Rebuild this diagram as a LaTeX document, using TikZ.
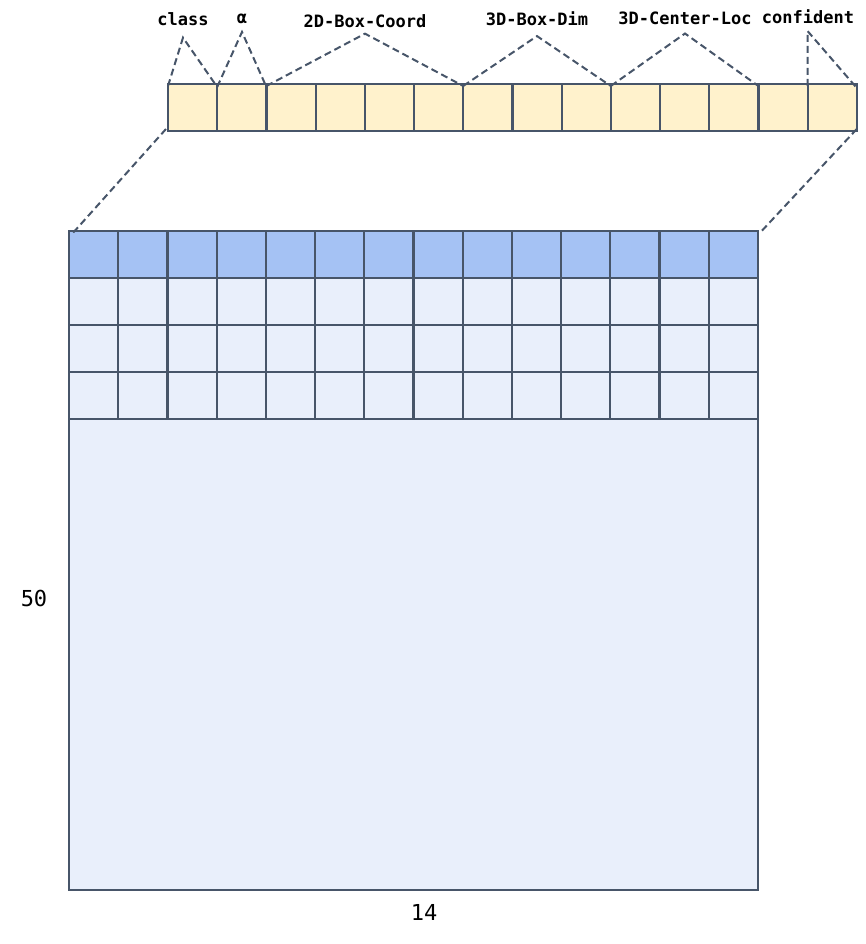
\documentclass[tikz,border=0pt]{standalone}
\usepackage{fontspec}
\setmonofont{DejaVu Sans Mono}
\usepackage{tikz}
\definecolor{cellline}{HTML}{475569}
\definecolor{slotyellow}{HTML}{FFF2CC}
\definecolor{headblue}{HTML}{A5C2F4}
\definecolor{gridblue}{HTML}{E9EFFB}
\begin{document}
\begin{tikzpicture}[x=1pt,y=-1pt,
        cell/.style={draw=cellline,line width=2.2pt,inner sep=0pt,outer sep=0pt,
            minimum width=49.2pt,minimum height=47pt},
        slot/.style={cell,fill=slotyellow},
        head/.style={cell,fill=headblue},
        body/.style={cell,fill=gridblue},
        fieldname/.style={font=\ttfamily\bfseries\fontsize{17}{17}\selectfont,
            inner sep=1pt,text depth=0pt},
        dimname/.style={font=\ttfamily\fontsize{22}{22}\selectfont},
        guide/.style={draw=cellline,line width=2pt,dash pattern=on 7pt off 4pt},
    ]
    \useasboundingbox (0,0) rectangle (865,944);
    % big block below the grid
    \node[body,anchor=north west,minimum width=688.8pt,minimum height=471pt] (rest) at (69,419) {};
    % one output vector
    \foreach \i in {1,...,14}{
        \node[slot] (t\i) at ({168+49.2*(\i-0.5)},107.5) {};
        \node[head] (h\i) at ({69+49.2*(\i-0.5)},254.5) {};
        \foreach \j in {1,2,3}{
            \node[body] (g\j-\i) at ({69+49.2*(\i-0.5)},{254.5+47*\j}) {};
        }
    }
    % field names
    \node[fieldname] (lclass) at (183,19) {class};
    \node[fieldname] (lalpha) at (242,19) {α};
    \node[fieldname] (lbox2d) at (365,21) {2D-Box-Coord};
    \node[fieldname] (ldim3d) at (537,19) {3D-Box-Dim};
    \node[fieldname] (lloc3d) at (685,18) {3D-Center-Loc};
    \node[fieldname] (lconf) at (808,17) {confident};
    \node[dimname] (rows) at (34,598) {50};
    \node[dimname] (cols) at (424,912) {14};
    % brackets
    \draw[guide] ([yshift=-2pt]t1.north west) -- ([yshift=-11pt]lclass.south) -- ([yshift=-3pt]t1.north east);
    \draw[guide] ([yshift=-3pt]t2.north west) -- ([yshift=-7pt]lalpha.south) -- ([yshift=-3pt]t2.north east);
    \draw[guide] ([yshift=-2pt]t3.north west) -- ([yshift=-5pt]lbox2d.south) -- ([yshift=-2pt]t6.north east);
    \draw[guide] ([yshift=-2pt]t7.north west) -- ([yshift=-9pt]ldim3d.south) -- ([yshift=-2pt]t9.north east);
    \draw[guide] ([yshift=-2pt]t10.north west) -- ([yshift=-8pt]lloc3d.south) -- ([yshift=-2pt]t12.north east);
    \draw[guide] ([yshift=-2pt]t13.north east) -- ([yshift=-6pt]lconf.south -| t13.north east) -- ([yshift=-4pt]t14.north east);
    \draw[guide] ([xshift=-2pt,yshift=2pt]t1.south west) -- ([xshift=3pt,yshift=-3pt]h1.north west);
    \draw[guide] ([yshift=2pt]t14.south east) -- ([xshift=2pt,yshift=-2pt]h14.north east);
\end{tikzpicture}
\end{document}
